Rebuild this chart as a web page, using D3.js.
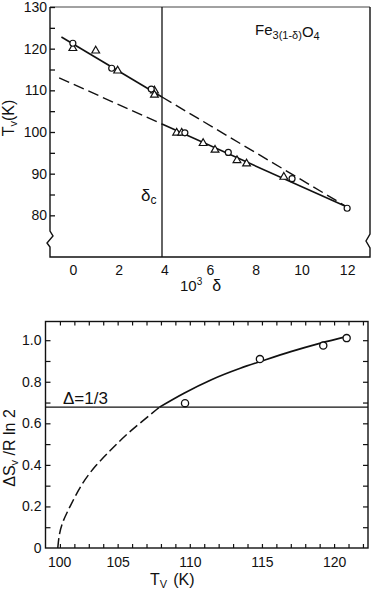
<!DOCTYPE html>
<html><head><meta charset="utf-8">
<script src="https://cdn.jsdelivr.net/npm/d3@7"></script>
<style>
body{margin:0;background:#fff}
svg{display:block}
text{font-family:"Liberation Sans",Arial,sans-serif;fill:#111}
</style>
</head><body>
<svg id="c" width="375" height="592"></svg>
<script>
// ---------- Top panel data (T_v vs 10^3 delta) ----------
const deltaTri = [0, 1.0, 1.96, 3.57, 3.57, 4.54, 4.76, 5.7, 6.22, 7.18, 7.6, 9.23];
const tvTri    = [120.1, 119.5, 114.7, 109.9, 108.9, 99.8, 99.8, 97.3, 95.7, 93.2, 92.4, 89.2];
const deltaCirc = [0, 1.7, 3.43, 4.9, 6.8, 9.59, 12.0];
const tvCirc    = [121.3, 115.3, 110.3, 99.8, 95.1, 88.8, 81.7];
const upperFitDelta = [-0.5, 3.9, 12.0];
const upperFitTv    = [122.8, 108.4, 82.0];
const lowerFitDelta = [-0.6, 3.9, 12.0];
const lowerFitTv    = [113.0, 101.9, 82.0];
const deltaC = 3.9;
const topXTicks = [0, 2, 4, 6, 8, 10, 12];
const topYTicks = [80, 85, 90, 95, 100, 105, 110, 115, 120, 125, 130];

// ---------- Bottom panel data (dS_v / R ln2 vs T_v) ----------
const tvPts = [109.67, 114.86, 119.25, 120.87];
const dsPts = [0.697, 0.909, 0.974, 1.01];
const dashT = [100.85, 100.95, 101.2, 101.7, 102.5, 103.5, 104.5, 105.5, 106.7, 107.9];
const dashS = [0, 0.07, 0.13, 0.2, 0.31, 0.40, 0.47, 0.54, 0.61, 0.678];
const solidT = [107.9, 109.6, 111.5, 113.5, 115.0, 117.0, 119.0, 121.0];
const solidS = [0.678, 0.745, 0.81, 0.865, 0.90, 0.945, 0.985, 1.02];
const deltaLevel = 0.678;
const botXTicks = d3.range(101, 123, 1);
const botXLabels = [100, 105, 110, 115, 120];
const botYTicks = [0.1, 0.2, 0.3, 0.4, 0.5, 0.6, 0.7, 0.8, 0.9, 1.0];
const botYLabels = [0, 0.2, 0.4, 0.6, 0.8, 1.0];

const svg = d3.select("#c");
const ink = "#111";

// ================= TOP PANEL =================
const xT = d3.scaleLinear().domain([-1, 13]).range([50, 370]);
const yT = d3.scaleLinear().domain([70, 130]).range([257, 7]);
const gT = svg.append("g");

const xl = xT.range()[0], xr = xT.range()[1], yt = yT.range()[1], yb = yT.range()[0];
gT.append("path")
  .attr("d", `M${xl},${yt} L${xr},${yt}`)
  .attr("stroke", "#444").attr("stroke-width", 1).attr("fill", "none");
gT.append("path")
  .attr("d", `M${xl},${yt} L${xl},231 L${xl+3},236 L${xl-3},243 L${xl},247 L${xl},${yb} L${xr},${yb} L${xr},248 L${xr-4},241 L${xr},234 L${xr},${yt}`)
  .attr("stroke", ink).attr("stroke-width", 1.4).attr("fill", "none");

const axL = gT.append("g").attr("transform", `translate(${xl},0)`)
  .call(d3.axisLeft(yT).tickValues(topYTicks).tickSize(-5).tickPadding(3)
    .tickFormat(d => d % 10 === 0 ? d : ""));
axL.select(".domain").remove();
axL.selectAll("line").attr("stroke", ink).attr("stroke-width", 1.3);
axL.selectAll("text").style("font-size", "14px").attr("fill", ink);

const axB = gT.append("g").attr("transform", `translate(0,${yb})`)
  .call(d3.axisBottom(xT).tickValues(topXTicks).tickSize(0).tickPadding(8));
axB.select(".domain").remove();
axB.selectAll("text").style("font-size", "14px").attr("fill", ink);

gT.append("line")
  .attr("x1", xT(deltaC)).attr("x2", xT(deltaC))
  .attr("y1", yt).attr("y2", yb)
  .attr("stroke", ink).attr("stroke-width", 1.3);

const lineT = d3.line().x(d => xT(d[0])).y(d => yT(d[1]));
const up = upperFitDelta.map((d, i) => [d, upperFitTv[i]]);
const lo = lowerFitDelta.map((d, i) => [d, lowerFitTv[i]]);
gT.append("path").attr("d", lineT(up.slice(0, 2))).attr("stroke", ink).attr("stroke-width", 1.6).attr("fill", "none");
gT.append("path").attr("d", lineT(up.slice(1))).attr("stroke", ink).attr("stroke-width", 1.4).attr("fill", "none").attr("stroke-dasharray", "11,5");
gT.append("path").attr("d", lineT(lo.slice(0, 2))).attr("stroke", ink).attr("stroke-width", 1.4).attr("fill", "none").attr("stroke-dasharray", "11,5");
gT.append("path").attr("d", lineT(lo.slice(1))).attr("stroke", ink).attr("stroke-width", 1.6).attr("fill", "none");

const tri = d3.symbol().type(d3.symbolTriangle).size(26);
gT.selectAll(".tri").data(deltaTri.map((d, i) => [d, tvTri[i]])).join("path")
  .attr("d", tri).attr("transform", d => `translate(${xT(d[0])},${yT(d[1])})`)
  .attr("fill", "#fff").attr("stroke", ink).attr("stroke-width", 1.2);
gT.selectAll(".circ").data(deltaCirc.map((d, i) => [d, tvCirc[i]])).join("circle")
  .attr("cx", d => xT(d[0])).attr("cy", d => yT(d[1])).attr("r", 3)
  .attr("fill", "#fff").attr("stroke", ink).attr("stroke-width", 1.2);

const title = gT.append("text").attr("x", 255).attr("y", 35).style("font-size", "15px");
title.append("tspan").text("Fe");
title.append("tspan").attr("dy", 4).style("font-size", "11px").text("3(1-δ)");
title.append("tspan").attr("dy", -2).style("font-size", "15px").text("O");
title.append("tspan").attr("dy", 3).style("font-size", "11px").text("4");

const dc = gT.append("text").attr("x", 141).attr("y", 201).style("font-size", "17px");
dc.append("tspan").text("δ");
dc.append("tspan").attr("dy", 3).style("font-size", "12px").text("c");

const xlab = gT.append("text").attr("x", 180).attr("y", 291).style("font-size", "15px");
xlab.append("tspan").text("10");
xlab.append("tspan").attr("dy", -6).style("font-size", "10px").text("3");
xlab.append("tspan").attr("dy", 6).attr("dx", 10).style("font-size", "16px").text("δ");

const ylab = gT.append("text").attr("transform", "translate(14,118) rotate(-90)")
  .attr("text-anchor", "middle").style("font-size", "16px");
ylab.append("tspan").text("T");
ylab.append("tspan").attr("dy", 3).style("font-size", "11px").text("v");
ylab.append("tspan").attr("dy", -3).text("(K)");

// ================= BOTTOM PANEL =================
const xB = d3.scaleLinear().domain([100, 122.35]).range([45.5, 368]);
const yB = d3.scaleLinear().domain([0, 1.09]).range([548, 321.5]);
const gB = svg.append("g");
const bl = xB.range()[0], br = xB.range()[1], bt = yB.range()[1], bb = yB.range()[0];

gB.append("rect").attr("x", bl).attr("y", bt).attr("width", br - bl).attr("height", bb - bt)
  .attr("fill", "none").attr("stroke", ink).attr("stroke-width", 1.4);

function styleAxis(g) {
  g.select(".domain").remove();
  g.selectAll("line").attr("stroke", ink).attr("stroke-width", 1.2);
  g.selectAll("text").style("font-size", "14px").attr("fill", ink);
}
const bxB = gB.append("g").attr("transform", `translate(0,${bb})`)
  .call(d3.axisBottom(xB).tickValues(botXTicks).tickSize(-4).tickFormat(""));
styleAxis(bxB);
const bxT = gB.append("g").attr("transform", `translate(0,${bt})`)
  .call(d3.axisTop(xB).tickValues(botXTicks).tickSize(-4).tickFormat(""));
styleAxis(bxT);
const bxLab = gB.append("g").attr("transform", `translate(0,${bb})`)
  .call(d3.axisBottom(xB).tickValues(botXLabels).tickSize(0).tickPadding(9));
styleAxis(bxLab);
bxLab.selectAll("text").filter(d => d === 100).attr("text-anchor", "start").attr("dx", 2);

const byL = gB.append("g").attr("transform", `translate(${bl},0)`)
  .call(d3.axisLeft(yB).tickValues(botYTicks).tickSize(-5).tickFormat(""));
styleAxis(byL);
const byR = gB.append("g").attr("transform", `translate(${br},0)`)
  .call(d3.axisRight(yB).tickValues(botYTicks).tickSize(-5).tickFormat(""));
styleAxis(byR);
const byLab = gB.append("g").attr("transform", `translate(${bl},0)`)
  .call(d3.axisLeft(yB).tickValues(botYLabels).tickSize(0).tickPadding(4)
    .tickFormat(d => d === 0 ? "0" : d3.format(".1f")(d)));
styleAxis(byLab);

gB.append("line").attr("x1", bl).attr("x2", br).attr("y1", yB(deltaLevel)).attr("y2", yB(deltaLevel))
  .attr("stroke", ink).attr("stroke-width", 1.4);
gB.append("text").attr("x", 63).attr("y", 404).style("font-size", "17px").text("Δ=1/3");

const lineB = d3.line().x(d => xB(d[0])).y(d => yB(d[1])).curve(d3.curveMonotoneX);
gB.append("path").attr("d", d3.line().x(d => xB(d[0])).y(d => yB(d[1])).curve(d3.curveBasis)(dashT.map((t, i) => [t, dashS[i]])))
  .attr("stroke", ink).attr("stroke-width", 1.5).attr("fill", "none").attr("stroke-dasharray", "10,4");
gB.append("path").attr("d", lineB(solidT.map((t, i) => [t, solidS[i]])))
  .attr("stroke", ink).attr("stroke-width", 1.7).attr("fill", "none");

gB.selectAll(".pt").data(tvPts.map((t, i) => [t, dsPts[i]])).join("circle")
  .attr("cx", d => xB(d[0])).attr("cy", d => yB(d[1])).attr("r", 3.6)
  .attr("fill", "#fff").attr("stroke", ink).attr("stroke-width", 1.3);

const ylab2 = gB.append("text").attr("transform", "translate(15,448) rotate(-90)")
  .attr("text-anchor", "middle").style("font-size", "16px");
ylab2.append("tspan").text("ΔS");
ylab2.append("tspan").attr("dy", 3).style("font-size", "11px").text("v");
ylab2.append("tspan").attr("dy", -3).text(" /R  ln 2");

const xlab2 = gB.append("text").attr("x", 150).attr("y", 585).style("font-size", "16px");
xlab2.append("tspan").text("T");
xlab2.append("tspan").attr("dy", 3).style("font-size", "11px").text("V");
xlab2.append("tspan").attr("dy", -3).attr("dx", 6).text("(K)");
</script>
</body></html>
